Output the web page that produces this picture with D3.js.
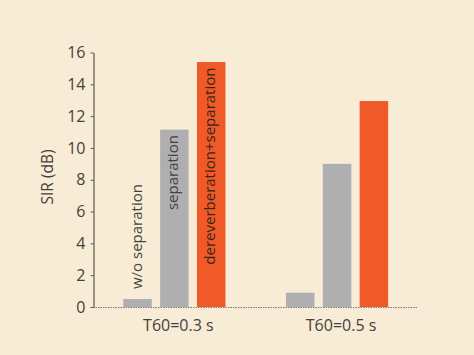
<!DOCTYPE html>
<html>
<head>
<meta charset="utf-8">
<script src="https://cdn.jsdelivr.net/npm/d3@7"></script>
<style>
html,body{margin:0;padding:0;background:#f8ecd6;}
svg{display:block;}
text{font-family:"Open Sans",sans-serif;}
</style>
</head>
<body>
<svg id="chart" width="474" height="355"></svg>
<script>
const categories = ["T60=0.3 s", "T60=0.5 s"];
const seriesNames = ["w/o separation", "separation", "dereverberation+separation"];
const woSeparation = [0.5, 0.9];
const separation = [11.15, 9.0];
const derevSeparation = [15.4, 12.95];
const yTicks = [0, 2, 4, 6, 8, 10, 12, 14, 16];
const seriesColors = ["#afafb1", "#afafb1", "#f05a28"];

const series = [woSeparation, separation, derevSeparation];
const data = categories.map((c, i) => ({cat: c, vals: series.map((s, j) => ({name: seriesNames[j], j, v: s[i]}))}));

const svg = d3.select("#chart");
svg.append("rect").attr("width", 474).attr("height", 355).attr("fill", "#f8ecd6");

const y = d3.scaleLinear().domain([0, 16]).range([307, 52.5]);
const x0 = d3.scaleBand().domain(categories).range([93, 418.4]).paddingInner(0.372).paddingOuter(0.186);
const x1 = d3.scaleBand().domain(seriesNames).range([0, x0.bandwidth()]).paddingInner(0.227).paddingOuter(0);

const textColor = "#45413c";

// bars
const groups = svg.append("g").selectAll("g").data(data).join("g")
  .attr("transform", d => `translate(${x0(d.cat)},0)`);
groups.selectAll("rect").data(d => d.vals).join("rect")
  .attr("x", d => x1(d.name))
  .attr("y", d => y(d.v))
  .attr("width", x1.bandwidth())
  .attr("height", d => y(0) - y(d.v))
  .attr("fill", d => seriesColors[d.j]);

// series labels in first group
const g0 = data[0];
g0.vals.forEach(d => {
  const cx = x0(g0.cat) + x1(d.name) + x1.bandwidth() / 2 + 4;
  let ty, anchor;
  if (d.j === 0) { ty = y(d.v) - 10; anchor = "start"; }
  else { ty = y(d.v) + 5.5; anchor = "end"; }
  svg.append("text")
    .attr("transform", `translate(${cx},${ty}) rotate(-90)`)
    .attr("text-anchor", anchor)
    .attr("font-size", 15)
    .attr("fill", d.j === 2 ? "#3a2418" : textColor)
    .text(d.name);
});

// baseline dotted
svg.append("line")
  .attr("x1", 93).attr("x2", 417)
  .attr("y1", y(0) + 0.5).attr("y2", y(0) + 0.5)
  .attr("stroke", "#7d7a74").attr("stroke-width", 1)
  .attr("stroke-dasharray", "1.5,1");

// y axis
const yAxis = d3.axisLeft(y).tickValues(yTicks).tickSize(3).tickSizeOuter(0).tickPadding(5);
const ag = svg.append("g").attr("transform", "translate(93.5,0)").call(yAxis);
ag.select(".domain").attr("stroke", "#5e564c").attr("stroke-width", 1.2);
ag.selectAll(".tick line").attr("stroke", "#5e564c");
ag.selectAll(".tick text").attr("font-size", 16).attr("fill", textColor).attr("font-family", "Open Sans, sans-serif");

// y title
svg.append("text")
  .attr("transform", "translate(53,177) rotate(-90)")
  .attr("text-anchor", "middle")
  .attr("font-size", 15.5)
  .attr("fill", textColor)
  .text("SIR (dB)");

// category labels
svg.append("g").selectAll("text").data(categories).join("text")
  .attr("x", d => x0(d) + x0.bandwidth() / 2 + 4)
  .attr("y", 331)
  .attr("text-anchor", "middle")
  .attr("font-size", 16)
  .attr("fill", textColor)
  .text(d => d);
</script>
</body>
</html>
